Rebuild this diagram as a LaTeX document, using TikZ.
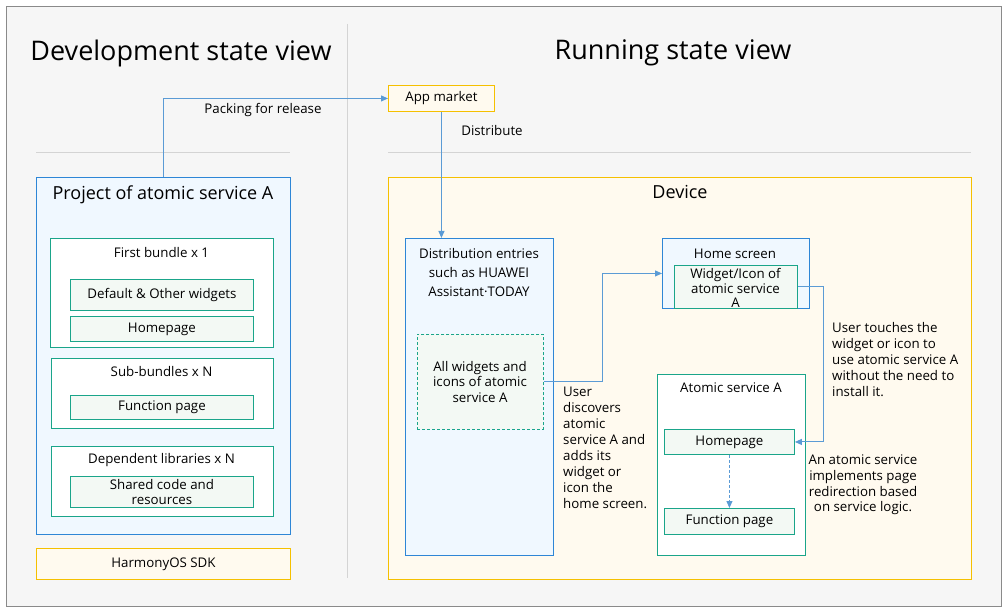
\documentclass[tikz,border=0pt]{standalone}
\usepackage{fontspec}
\setmainfont{Open Sans}
\usetikzlibrary{arrows.meta}
\definecolor{bblue}{HTML}{2E86D6}
\definecolor{lblue}{HTML}{5B9BD5}
\definecolor{gr}{HTML}{1AA58A}
\definecolor{yl}{HTML}{F5C000}
\definecolor{bgc}{HTML}{F6F6F6}
\definecolor{bluefill}{HTML}{F0F8FF}
\definecolor{greenfill}{HTML}{F3F9F4}
\definecolor{yfill}{HTML}{FFFAEF}
\definecolor{sepc}{HTML}{D4D4D4}
\definecolor{frame}{HTML}{8A8A8A}
\begin{document}
\begin{tikzpicture}[x=1pt,y=-1pt,
  font=\fontsize{13.3}{15}\selectfont,
  box/.style={line width=0.9pt, inner sep=0pt, anchor=north west},
  bluebox/.style={box, draw=bblue, fill=bluefill},
  greenbox/.style={box, draw=gr, fill=white},
  gfillbox/.style={box, draw=gr, fill=greenfill, align=center},
  ybox/.style={box, draw=yl, fill=yfill, align=center},
  txt/.style={inner sep=0pt, align=center},
  arr/.style={draw=lblue, line width=1pt, -{Triangle[length=7pt,width=6pt]}},
  sepline/.style={draw=sepc, line width=0.8pt}]
\useasboundingbox (0,0) rectangle (1007,612);
\node[box, draw=frame, fill=bgc, minimum width=995pt, minimum height=600pt] (frm) at (6,6) {};
% separators
\draw[sepline] (347,24) coordinate (s1) -- (347,578) coordinate (s2);
\draw[sepline] (36,152) coordinate (h1) -- (290,152) coordinate (h2);
\draw[sepline] (388,152) coordinate (h3) -- (971,152) coordinate (h4);
% titles
\node[txt, font=\fontsize{27}{30}\selectfont] (t1) at (181,53) {Development state view};
\node[txt, font=\fontsize{27}{30}\selectfont] (t2) at (673,53) {Running state view};
% left side
\node[bluebox, minimum width=254pt, minimum height=357pt] (proj) at (36,177) {};
\node[txt, font=\fontsize{18}{21}\selectfont] (projt) at (163,195) {Project of atomic service A};
\node[greenbox, minimum width=223pt, minimum height=109pt] (fb) at (50,238) {};
\node[txt] (fbt) at (161.5,253) {First bundle x 1};
\node[gfillbox, minimum width=183pt, minimum height=31pt] (dw) at (70,279) {Default \& Other widgets};
\node[gfillbox, minimum width=183pt, minimum height=25pt] (hp1) at (70,316) {Homepage};
\node[greenbox, minimum width=222pt, minimum height=70pt] (sb) at (51,358) {};
\node[txt] (sbt) at (161.5,372) {Sub-bundles x N};
\node[gfillbox, minimum width=183pt, minimum height=24pt] (fp1) at (70,395) {Function page};
\node[greenbox, minimum width=222pt, minimum height=70pt] (dl) at (51,446) {};
\node[txt] (dlt) at (161.5,460) {Dependent libraries x N};
\node[gfillbox, minimum width=183pt, minimum height=31pt, font=\fontsize{13.3}{14.5}\selectfont] (sc) at (70,476) {Shared code and\\resources};
\node[ybox, minimum width=254pt, minimum height=31pt] (sdk) at (36,548) {HarmonyOS SDK};
% app market
\node[ybox, minimum width=106pt, minimum height=26pt] (am) at (388,85) {App market};
\draw[arr] (proj.north) |- (am.west);
\node[txt] (pl) at (263,110) {Packing for release};
% device
\node[ybox, minimum width=583pt, minimum height=402pt] (dev) at (388,177) {};
\node[txt, font=\fontsize{18}{21}\selectfont] (devt) at (680,192) {Device};
\node[bluebox, minimum width=148pt, minimum height=317pt] (dist) at (405,238) {};
\node[txt, font=\fontsize{13.3}{19}\selectfont] (distt) at (479,273) {Distribution entries\\such as HUAWEI\\Assistant·TODAY};
\draw[arr] (am.south) -- (am.south |- dist.north);
\node[txt] (dl2) at (492,131) {Distribute};
\node[box, draw=gr, fill=greenfill, dashed, dash pattern=on 3pt off 2pt, minimum width=126pt, minimum height=95pt] (allw) at (417,334) {};
\node[txt, font=\fontsize{13.3}{15.5}\selectfont] (allwt) at (480,382) {All widgets and\\icons of atomic\\service A};
% home screen
\node[bluebox, minimum width=147pt, minimum height=70pt] (home) at (662,238) {};
\node[txt] (homet) at (735,254) {Home screen};
\node[gfillbox, minimum width=123pt, minimum height=43pt] (wid) at (674,265) {};
\node[txt, font=\fontsize{13.3}{14.5}\selectfont] (widt) at (735.5,288) {Widget/Icon of\\atomic service\\A};
\draw[arr] (allw.east) -- ++(59,0) |- (home.west);
\node[txt, align=left, anchor=north west, font=\fontsize{13.3}{16}\selectfont] (lab1) at (563,387) {User\\discovers\\atomic\\service A and\\adds its\\widget or\\icon the\\home screen.};
% atomic service
\node[greenbox, minimum width=148pt, minimum height=181pt] (as) at (657,374) {};
\node[txt] (ast) at (731,388) {Atomic service A};
\node[gfillbox, minimum width=130pt, minimum height=25pt] (hp2) at (664,429) {Homepage};
\node[gfillbox, minimum width=130pt, minimum height=26pt] (fp2) at (664,508) {Function page};
\draw[arr] (wid.east) -- ++(26,0) |- (hp2.east);
\draw[arr, dashed, dash pattern=on 3pt off 2pt] (hp2.south) -- (fp2.north);
\node[txt, align=left, anchor=north west, font=\fontsize{13.3}{16}\selectfont] (lab2) at (832,322) {User touches the\\widget or icon to\\use atomic service A\\without the need to\\install it.};
\node[txt, font=\fontsize{13.3}{15.6}\selectfont] (lab3) at (863,485) {An atomic service\\implements page\\redirection based\\on service logic.};
\end{tikzpicture}
\end{document}
